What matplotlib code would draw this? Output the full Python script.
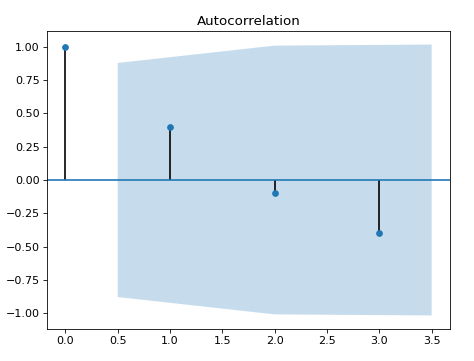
import numpy as np
import matplotlib
matplotlib.use("Agg")
import matplotlib.pyplot as plt

# acf values per lag
lags = [0, 1, 2, 3]
acf_vals = [1.0, 0.4, -0.1, -0.4]

# confidence band (half width), drawn from lag 1 on, ends stretched by 0.5
band_x = [0.5, 2.0, 3.5]
band_hi = [0.877, 1.007, 1.015]

plt.rcParams["font.size"] = 10.8

fig = plt.figure(figsize=(474 / 74, 361 / 74), dpi=74)
ax = fig.add_axes([47 / 474, 1 - 329 / 361, (450 - 47) / 474, (329 - 31) / 361])

ax.vlines(lags, [0], acf_vals, colors="black", linewidth=1.6)
ax.axhline(linewidth=1.6)
ax.plot(lags, acf_vals, "o", markersize=5.5)
ax.fill_between(band_x, [-v for v in band_hi], band_hi, alpha=0.25, linewidth=0)
ax.set_title("Autocorrelation")

fig.savefig("out.png", dpi=74)
